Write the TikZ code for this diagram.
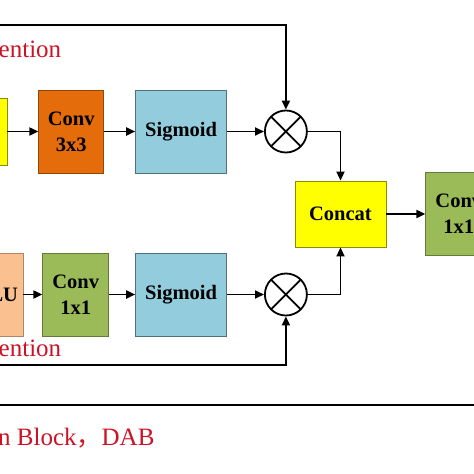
\documentclass[tikz,border=0pt]{standalone}
\usepackage{fontspec}
\setmainfont{Liberation Serif}
\newfontfamily\cjk{Noto Sans CJK SC}
\usepackage{tikz}
\usetikzlibrary{arrows.meta, positioning, calc}

\definecolor{convorange}{RGB}{228,108,10}
\definecolor{sigblue}{RGB}{147,205,221}
\definecolor{convgreen}{RGB}{155,187,89}
\definecolor{relupeach}{RGB}{250,192,143}
\definecolor{catyellow}{RGB}{255,255,0}
\definecolor{labelred}{RGB}{204,18,36}

\begin{document}
\begin{tikzpicture}[
    x=1pt, y=-1pt,
    block/.style={rectangle, draw, line width=0.8pt, align=center, inner sep=2pt,
        font=\fontsize{20.5}{26}\selectfont\bfseries},
    yblock/.style={block, fill=catyellow, draw=catyellow!55!black},
    orangeblock/.style={block, fill=convorange, draw=convorange!65!black, minimum width=65pt, minimum height=83pt},
    sigblock/.style={block, fill=sigblue, draw=sigblue!55!black, minimum width=91pt, minimum height=83pt},
    greenblock/.style={block, fill=convgreen, draw=convgreen!65!black, minimum width=66pt, minimum height=83pt},
    relublock/.style={block, fill=relupeach, draw=relupeach!70!black, minimum width=66pt, minimum height=83pt},
    mult/.style={circle, draw, line width=1.8pt, minimum size=42pt, inner sep=0pt,
        path picture={\draw[line width=1.8pt] (path picture bounding box.north west) -- (path picture bounding box.south east)
            (path picture bounding box.north east) -- (path picture bounding box.south west);}},
    arr/.style={-{Triangle[length=9pt, width=8pt]}, line width=1.8pt},
    redlabel/.style={font=\fontsize{25}{29}\selectfont, text=labelred, inner sep=0pt},
]
\useasboundingbox (0,0) rectangle (474,474);

% ======== TOP BRANCH ========
\node[yblock, minimum width=64pt, minimum height=67pt] (ypre) at (-25,131.5) {};
\node[orangeblock, right=31pt of ypre] (conv3) {Conv\\3x3};
\node[sigblock, right=31pt of conv3] (sig1) {Sigmoid};
\node[mult, right=37pt of sig1] (mul1) {};

\draw[arr] (ypre) -- (conv3);
\draw[arr] (conv3) -- (sig1);
\draw[arr] (sig1) -- (mul1);

% skip line into the top product
\coordinate (topin) at (-5,25);
\draw[arr] (topin) -| (mul1);
\node[redlabel, anchor=base west] (attn1) at (-1.5,57.5) {ention};

% ======== BOTTOM BRANCH ========
\node[relublock, text width=56pt, align=right] (relu) at (-10,294.5) {LU};
\node[greenblock, right=19pt of relu] (conv1) {Conv\\1x1};
\node[sigblock, right=26pt of conv1] (sig2) {Sigmoid};
\node[mult, right=37pt of sig2] (mul2) {};

\draw[arr] (relu) -- (conv1);
\draw[arr] (conv1) -- (sig2);
\draw[arr] (sig2) -- (mul2);

% skip line into the bottom product
\coordinate (botin) at (-5,365);
\draw[arr] (botin) -| (mul2);
\node[redlabel, anchor=base west] (attn2) at (-1.5,356) {ention};

% ======== MERGE ========
\node[yblock, minimum width=91pt, minimum height=66pt] (concat) at (340.5,214) {Concat};
\node[greenblock, right=39pt of concat] (convout) {Conv\\1x1};

\draw[arr] (mul1) -| (concat);
\draw[arr] (mul2) -| (concat);
\draw[arr] (concat) -- (convout);

% caption rule
\coordinate (ruleL) at (-5,405);
\coordinate (ruleR) at (480,405);
\draw[line width=1.4pt] (ruleL) -- (ruleR);
\node[redlabel, anchor=base west] (caption) at (-2,445) {n Block{\cjk ，}DAB};

\end{tikzpicture}
\end{document}
